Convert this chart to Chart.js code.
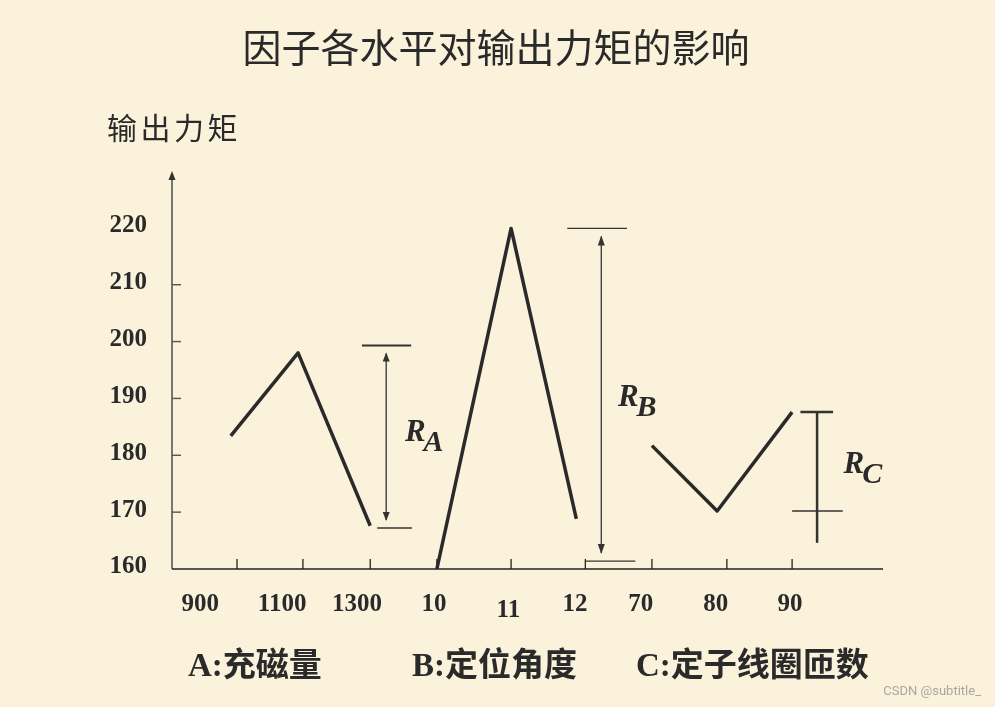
<!DOCTYPE html>
<html>
<head>
<meta charset="utf-8">
<script src="https://cdn.jsdelivr.net/npm/chart.js@4/dist/chart.umd.min.js"></script>
<style>
  html, body { margin: 0; padding: 0; background: #fbf2db; }
  #wrap { position: relative; width: 995px; height: 707px; }
</style>
</head>
<body>
<div id="wrap"><canvas id="chart"></canvas></div>
<script>
// level labels of the three factors, in axis order
const levelLabels = ["900", "1100", "1300", "10", "11", "12", "70", "80", "90"];
const yTicks = [160, 170, 180, 190, 200, 210, 220];

// position of each level along the axis (slot units)
const levelSlot = [1, 1.95, 2.92, 3.88, 4.95, 6.02, 6.98, 8.06, 9.0];

// output torque per level
const slotA = [0.91, 1.88, 2.92];
const torqueA = [183.4, 198.0, 167.6];
const slotB = [3.88, 4.95, 5.89];
const torqueB = [160.0, 219.9, 168.8];
const slotC = [6.98, 7.92, 9.0];
const torqueC = [181.7, 170.2, 187.6];

const legendItems = ["A:充磁量", "B:定位角度", "C:定子线圈匝数"];

const INK = "#2a2a2a";
const SERIF = "'Liberation Serif', 'Noto Sans CJK SC', serif";
const CJK = "'Noto Sans CJK SC', sans-serif";

function toPoints(xs, ys) {
    return xs.map((x, i) => ({ x: x, y: ys[i] }));
}

function arrowHead(ctx, x, y, dir, w, h) {
    // dir = -1 points up, 1 points down
    ctx.beginPath();
    ctx.moveTo(x, y);
    ctx.lineTo(x - w, y - dir * h);
    ctx.lineTo(x + w, y - dir * h);
    ctx.closePath();
    ctx.fill();
}

function hLine(ctx, x1, x2, y, lw) {
    ctx.lineWidth = lw;
    ctx.beginPath();
    ctx.moveTo(x1, y);
    ctx.lineTo(x2, y);
    ctx.stroke();
}

function rLabel(ctx, sub, x, y) {
    ctx.textAlign = "left";
    ctx.textBaseline = "alphabetic";
    ctx.font = "italic bold 31px " + SERIF;
    ctx.fillText("R", x, y);
    const w = ctx.measureText("R").width;
    ctx.font = "italic bold 30px " + SERIF;
    ctx.fillText(sub, x + w - 2, y + 10);
}

const decor = {
    id: "decor",
    beforeDraw(chart) {
        const ctx = chart.ctx;
        ctx.save();
        ctx.fillStyle = "#fbf2db";
        ctx.fillRect(0, 0, chart.width, chart.height);
        ctx.restore();
    },
    beforeDatasetsDraw(chart) {
        const ctx = chart.ctx;
        const xs = chart.scales.x, ys = chart.scales.y;
        const a = chart.chartArea;
        const y0 = ys.getPixelForValue(160);
        ctx.save();

        // y axis with arrow
        ctx.strokeStyle = "#555";
        ctx.fillStyle = "#333";
        ctx.lineWidth = 1.6;
        ctx.beginPath();
        ctx.moveTo(a.left, y0);
        ctx.lineTo(a.left, a.top + 4);
        ctx.stroke();
        arrowHead(ctx, a.left, a.top, -1, 3.5, 9);

        // y ticks and labels
        ctx.fillStyle = INK;
        ctx.font = "bold 25px " + SERIF;
        ctx.textAlign = "right";
        ctx.textBaseline = "middle";
        yTicks.forEach(v => {
            const y = ys.getPixelForValue(v);
            if (v > 160 && v < 220) {
                hLine(ctx, a.left, a.left + 9, y, 1.4);
            }
            ctx.fillText(String(v), 147, y - 2);
        });

        // x axis
        ctx.strokeStyle = "#222";
        hLine(ctx, a.left, a.right, y0, 1.6);
        ctx.lineWidth = 1.3;
        levelSlot.forEach(s => {
            const x = xs.getPixelForValue(s);
            ctx.beginPath();
            ctx.moveTo(x, y0);
            ctx.lineTo(x, y0 - 10);
            ctx.stroke();
        });

        // x labels sit a little left of their ticks, as in the original slide
        const labelShift = [-0.53, -0.30, -0.19, -0.04, -0.04, -0.15, -0.16, -0.16, -0.03];
        ctx.textAlign = "center";
        ctx.textBaseline = "middle";
        levelLabels.forEach((lab, i) => {
            const x = xs.getPixelForValue(levelSlot[i] + labelShift[i]);
            ctx.fillText(lab, x, y0 + (lab === "11" ? 42 : 36));
        });
        ctx.restore();
    },
    afterDatasetsDraw(chart) {
        const ctx = chart.ctx;
        const xs = chart.scales.x, ys = chart.scales.y;
        const px = v => xs.getPixelForValue(v);
        const py = v => ys.getPixelForValue(v);
        ctx.save();
        ctx.strokeStyle = "#333";
        ctx.fillStyle = "#333";

        // range R_A
        let hi = Math.max(...torqueA) + 1.3, lo = Math.min(...torqueA) - 0.4;
        hLine(ctx, px(2.80), px(3.51), py(hi), 2);
        hLine(ctx, px(3.02), px(3.52), py(lo), 1.5);
        let x = px(3.15);
        ctx.lineWidth = 1.3;
        ctx.beginPath();
        ctx.moveTo(x, py(hi) + 8);
        ctx.lineTo(x, py(lo) - 8);
        ctx.stroke();
        arrowHead(ctx, x, py(hi) + 7, -1, 3.5, 9);
        arrowHead(ctx, x, py(lo) - 7, 1, 3.5, 9);

        // range R_B
        hi = Math.max(...torqueB); lo = Math.max(Math.min(...torqueB), 161.4);
        hLine(ctx, px(5.76), px(6.62), py(hi), 1.3);
        hLine(ctx, px(6.02), px(6.74), py(lo), 1.3);
        x = px(6.25);
        ctx.lineWidth = 1.3;
        ctx.beginPath();
        ctx.moveTo(x, py(hi) + 8);
        ctx.lineTo(x, py(lo) - 8);
        ctx.stroke();
        arrowHead(ctx, x, py(hi) + 7, -1, 3.5, 10);
        arrowHead(ctx, x, py(lo) - 7, 1, 3.5, 10);

        // range R_C
        hi = Math.max(...torqueC); lo = Math.min(...torqueC);
        hLine(ctx, px(9.12), px(9.59), py(hi), 2.5);
        hLine(ctx, px(9.0), px(9.73), py(lo), 1.4);
        x = px(9.36);
        ctx.lineWidth = 2.5;
        ctx.beginPath();
        ctx.moveTo(x, py(hi));
        ctx.lineTo(x, py(164.6));
        ctx.stroke();

        // R labels
        ctx.fillStyle = INK;
        rLabel(ctx, "A", px(3.42), py(182.6));
        rLabel(ctx, "B", px(6.49), py(188.7));
        rLabel(ctx, "C", px(9.74), py(176.9));

        // title and axis name
        ctx.textBaseline = "middle";
        ctx.textAlign = "center";
        ctx.font = "39px " + CJK;
        ctx.fillText("因子各水平对输出力矩的影响", 496, 47);
        ctx.textAlign = "left";
        ctx.font = "30px " + CJK;
        "输出力矩".split("").forEach((ch, i) => ctx.fillText(ch, 107 + i * 33.5, 128));

        // factor legend
        ctx.font = "bold 33px " + SERIF;
        ctx.textBaseline = "middle";
        const legendX = [188, 412, 636];
        legendItems.forEach((t, i) => ctx.fillText(t, legendX[i], 667));

        // watermark
        ctx.font = "13px Roboto, sans-serif";
        ctx.fillStyle = "#a9a69f";
        ctx.textAlign = "right";
        ctx.fillText("CSDN @subtitle_", 981, 692);
        ctx.restore();
    }
};

const lineStyle = {
    borderColor: INK,
    borderWidth: 3.5,
    borderJoinStyle: "round",
    borderCapStyle: "butt",
    pointRadius: 0,
    tension: 0,
    fill: false
};

new Chart(document.getElementById("chart"), {
    type: "line",
    data: {
        datasets: [
            Object.assign({ label: "A", data: toPoints(slotA, torqueA) }, lineStyle),
            Object.assign({ label: "B", data: toPoints(slotB, torqueB) }, lineStyle),
            Object.assign({ label: "C", data: toPoints(slotC, torqueC) }, lineStyle)
        ]
    },
    options: {
        responsive: true,
        maintainAspectRatio: false,
        animation: false,
        layout: { padding: { left: 172, right: 112, top: 171, bottom: 138 } },
        plugins: { legend: { display: false }, tooltip: { enabled: false } },
        scales: {
            x: { type: "linear", display: false, min: 0.063, max: 10.31 },
            y: { type: "linear", display: false, min: 160, max: 230 }
        }
    },
    plugins: [decor]
});
</script>
</body>
</html>
